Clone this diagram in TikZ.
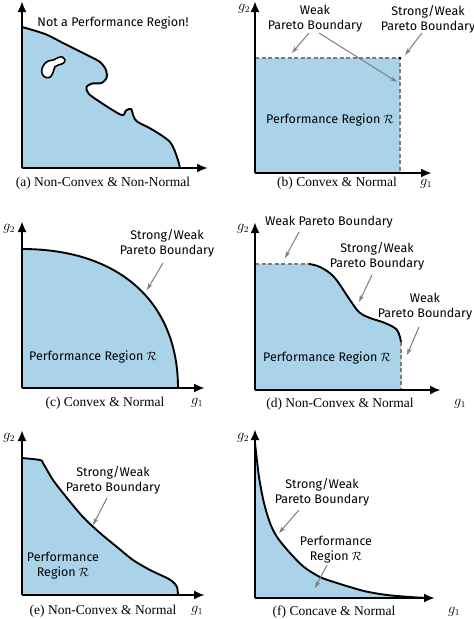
\documentclass[tikz,border=0pt]{standalone}
\usepackage{fontspec}
\setmainfont{Liberation Serif}
\newfontfamily\labfamily{Fira Sans}
\usetikzlibrary{arrows.meta}
\definecolor{regblue}{RGB}{170,211,234}
\definecolor{ptrgray}{RGB}{125,125,125}
\begin{document}
\begin{tikzpicture}[x=1pt,y=-1pt,
  axis/.style={line width=2.2pt,-{Latex[length=11pt,width=9pt]}},
  region/.style={fill=regblue},
  bound/.style={line width=1.9pt,line join=round},
  weakb/.style={line width=1.5pt,draw=ptrgray,dash pattern=on 4pt off 2.5pt},
  ptr/.style={draw=ptrgray,line width=1pt,-{Stealth[length=7pt,width=4.5pt]}},
  lab/.style={font=\labfamily\fontsize{12.5}{15}\selectfont,align=center,inner sep=0pt},
  captext/.style={font=\fontsize{13.5}{16}\selectfont,inner sep=0pt},
  gl/.style={font=\fontsize{13.5}{16}\selectfont,inner sep=0pt}]
\path[use as bounding box] (0,0) rectangle (474,619);

% ---------------- (a)
\fill[region,even odd rule] (22,27) plot[smooth,tension=0.5] coordinates {(22,27) (45,34) (65,44) (87,55) (100,62) (106,70) (106.5,78) (101.5,83) (92,83.5) (86.5,87) (88.5,93.5) (100,102) (121.5,115) (126,110.5) (131,109) (133.5,116) (137,121.5) (153,130) (170,142) (177,157) (180,168)} -- (22,168) -- cycle
  plot[smooth cycle,tension=0.5] coordinates {(45,63.3) (48.3,61) (53.3,60) (56.7,58.3) (61.7,56.7) (65,60) (63.3,63.3) (58.3,65) (55,66.7) (53.3,71.7) (50.7,76.7) (46.7,77.7) (42.7,75) (41.7,70) (43.3,65.7)};
\draw[bound] plot[smooth,tension=0.5] coordinates {(22,27) (45,34) (65,44) (87,55) (100,62) (106,70) (106.5,78) (101.5,83) (92,83.5) (86.5,87) (88.5,93.5) (100,102) (121.5,115) (126,110.5) (131,109) (133.5,116) (137,121.5) (153,130) (170,142) (177,157) (180,168)};
\draw[line width=1.6pt,line join=round] plot[smooth cycle,tension=0.5] coordinates {(45,63.3) (48.3,61) (53.3,60) (56.7,58.3) (61.7,56.7) (65,60) (63.3,63.3) (58.3,65) (55,66.7) (53.3,71.7) (50.7,76.7) (46.7,77.7) (42.7,75) (41.7,70) (43.3,65.7)};
\coordinate (oa) at (22,168);
\coordinate (ya) at (22,1);
\coordinate (xa) at (208,168);
\draw[axis] (oa) -- (ya);
\draw[axis] (oa) -- (xa);
\node[lab] (ta) at (113,23) {Not a Performance Region!};
\node[captext] (ca) at (103,183) {(a) Non-Convex \& Non-Normal};

% ---------------- (b)
\fill[region] (255,173) rectangle (400,58);
\draw[weakb] (255,58) -- (400,58) -- (400,173);
\fill (400,58) circle (1.3pt);
\coordinate (ob) at (255,173);
\coordinate (yb) at (255,1);
\coordinate (xb) at (432,173);
\draw[axis] (ob) -- (yb);
\draw[axis] (ob) -- (xb);
\node[gl] (g2b) at (244,9) {$g_2$};
\node[gl] (g1b) at (426,184) {$g_1$};
\node[captext] (cb) at (337,183) {(b) Convex \& Normal};
\node[lab] (wb) at (315,19) {Weak\\Pareto Boundary};
\node[lab] (sb) at (428,19) {Strong/Weak\\Pareto Boundary};
\node[lab] (pb) at (330,120) {Performance Region $\mathcal{R}$};
\coordinate (wb1s) at (309,33);
\coordinate (wb1e) at (292,53);
\coordinate (wb2s) at (319,33);
\coordinate (wb2e) at (397,82);
\coordinate (sbs) at (422,33);
\coordinate (sbe) at (405,55);
\draw[ptr] (wb1s) -- (wb1e);
\draw[ptr] (wb2s) -- (wb2e);
\draw[ptr] (sbs) -- (sbe);

% ---------------- (c)
\fill[region] (22,249) .. controls (119,249) and (178,302) .. (178,388) -- (22,388) -- cycle;
\draw[bound] (22,249) .. controls (119,249) and (178,302) .. (178,388);
\coordinate (oc) at (22,388);
\coordinate (yc) at (22,221);
\coordinate (xc) at (205,388);
\draw[axis] (oc) -- (yc);
\draw[axis] (oc) -- (xc);
\node[gl] (g2c) at (9,229) {$g_2$};
\node[gl] (g1c) at (197,403) {$g_1$};
\node[captext] (cc) at (105,403) {(c) Convex \& Normal};
\node[lab] (sc) at (167,243) {Strong/Weak\\Pareto Boundary};
\node[lab] (pc) at (93,357) {Performance Region $\mathcal{R}$};
\coordinate (scs) at (163,263);
\coordinate (sce) at (147,290);
\draw[ptr] (scs) -- (sce);

% ---------------- (d)
\fill[region] (255,264) -- plot[smooth,tension=0.6] coordinates {(309,264) (320,267) (334,277) (350,300) (359,312) (370,318) (385,323) (397,330) (401,342)} -- (401,390) -- (255,390) -- cycle;
\draw[bound] plot[smooth,tension=0.6] coordinates {(309,264) (320,267) (334,277) (350,300) (359,312) (370,318) (385,323) (397,330) (401,342)};
\draw[weakb] (255,264) -- (309,264);
\draw[weakb] (401,342) -- (401,390);
\coordinate (od) at (255,390);
\coordinate (yd) at (255,222);
\coordinate (xd) at (441,390);
\draw[axis] (od) -- (yd);
\draw[axis] (od) -- (xd);
\node[gl] (g2d) at (243,229) {$g_2$};
\node[gl] (g1d) at (460,404) {$g_1$};
\node[captext] (cd) at (340,404) {(d) Non-Convex \& Normal};
\node[lab] (wd1) at (329,222) {Weak Pareto Boundary};
\node[lab] (sd) at (377,256) {Strong/Weak\\Pareto Boundary};
\node[lab] (wd2) at (425,307) {Weak\\Pareto Boundary};
\node[lab] (pd) at (327,358) {Performance Region $\mathcal{R}$};
\coordinate (wd1s) at (299,232);
\coordinate (wd1e) at (285,258);
\coordinate (sds) at (372,275);
\coordinate (sde) at (359,302);
\coordinate (wd2s) at (419,327);
\coordinate (wd2e) at (407,355);
\draw[ptr] (wd1s) -- (wd1e);
\draw[ptr] (sds) -- (sde);
\draw[ptr] (wd2s) -- (wd2e);

% ---------------- (e)
\fill[region] plot[smooth,tension=0.5] coordinates {(22,458) (40,460) (43,463) (53,480) (67,498) (83,517) (100,533) (117,547) (133,560) (150,570) (167,578) (173,582) (177,587) (178,595)} -- (22,595) -- cycle;
\draw[bound] plot[smooth,tension=0.5] coordinates {(22,458) (40,460) (43,463) (53,480) (67,498) (83,517) (100,533) (117,547) (133,560) (150,570) (167,578) (173,582) (177,587) (178,595)};
\coordinate (oe) at (22,595);
\coordinate (ye) at (22,430);
\coordinate (xe) at (205,595);
\draw[axis] (oe) -- (ye);
\draw[axis] (oe) -- (xe);
\node[gl] (g2e) at (9,438) {$g_2$};
\node[gl] (g1e) at (197,611) {$g_1$};
\node[captext] (ce) at (103,611) {(e) Non-Convex \& Normal};
\node[lab] (se) at (113,480) {Strong/Weak\\Pareto Boundary};
\node[lab] (pe) at (63,566) {Performance\\Region $\mathcal{R}$};
\coordinate (ses) at (107,498);
\coordinate (see) at (93,525);
\draw[ptr] (ses) -- (see);

% ---------------- (f)
\fill[region] plot[smooth,tension=0.5] coordinates {(255,443) (259,477) (264,503) (270,523) (277,537) (290,553) (304,567) (320,577) (337,583) (364,591) (387,595) (410,597) (427,598)} -- (255,598) -- cycle;
\draw[bound] plot[smooth,tension=0.5] coordinates {(255,443) (259,477) (264,503) (270,523) (277,537) (290,553) (304,567) (320,577) (337,583) (364,591) (387,595) (410,597) (427,598)};
\coordinate (of) at (255,598);
\coordinate (yf) at (255,429);
\coordinate (xf) at (435,598);
\draw[axis] (of) -- (yf);
\draw[axis] (of) -- (xf);
\node[gl] (g2f) at (243,438) {$g_2$};
\node[gl] (g1f) at (454,612) {$g_1$};
\node[captext] (cf) at (334,612) {(f) Concave \& Normal};
\node[lab] (sf) at (322,492) {Strong/Weak\\Pareto Boundary};
\node[lab] (pf) at (336,550) {Performance\\Region $\mathcal{R}$};
\coordinate (sfs) at (299,510);
\coordinate (sfe) at (279,533);
\coordinate (pfs) at (327,565);
\coordinate (pfe) at (315,588);
\draw[ptr] (sfs) -- (sfe);
\draw[ptr] (pfs) -- (pfe);
\end{tikzpicture}
\end{document}
